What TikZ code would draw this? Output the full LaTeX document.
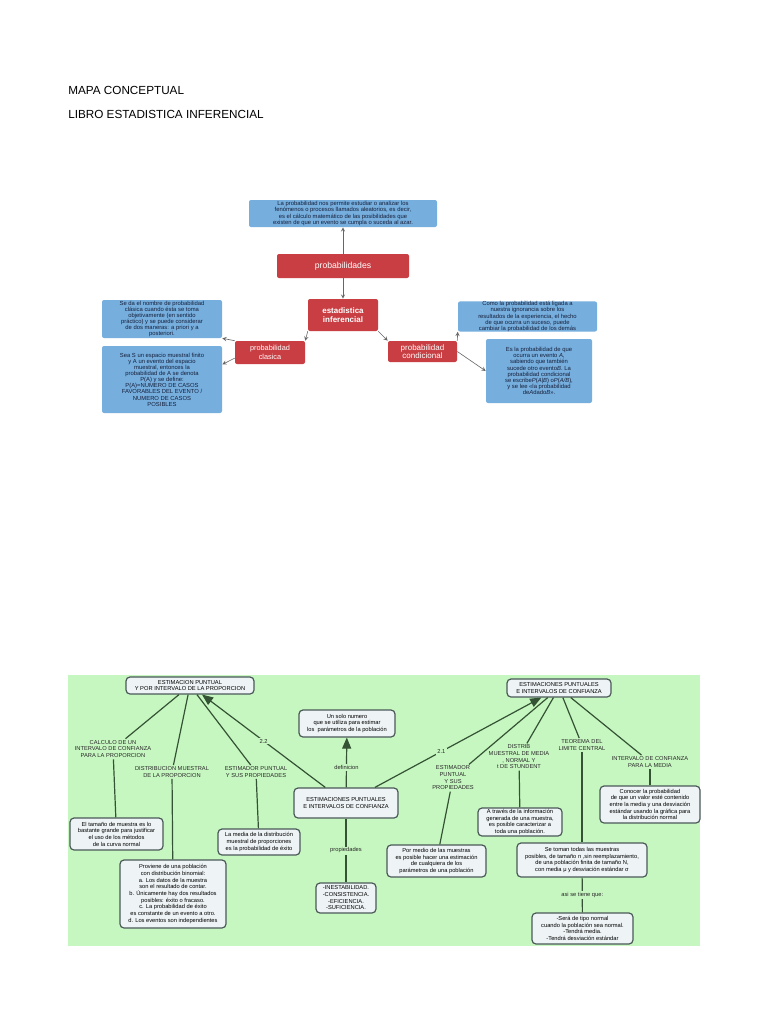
\documentclass[tikz,border=0pt]{standalone}
\usepackage{fontspec}
\setmainfont{Liberation Sans}
\usepackage{xcolor}
\usetikzlibrary{shapes,arrows,positioning}

\definecolor{conceptred}{RGB}{201,62,67}
\definecolor{conceptblue}{RGB}{118,174,222}
\definecolor{bluetext}{RGB}{22,32,58}
\definecolor{mapgreen}{RGB}{199,247,193}
\definecolor{mapnode}{RGB}{238,243,245}
\definecolor{mapedge}{RGB}{74,88,88}
\definecolor{mapline}{RGB}{52,82,52}

\begin{document}
\begin{tikzpicture}[
    x=0.75pt, y=-0.75pt,
    redbox/.style={fill=conceptred, rounded corners=1.5pt, text=white, align=center, inner sep=0pt},
    bluebox/.style={fill=conceptblue, rounded corners=1.5pt, text=bluetext, align=center, inner sep=0pt,
        font=\fontsize{4.4}{4.6}\selectfont},
    arr/.style={->, >=stealth, draw=black!60, line width=0.45pt},
    box/.style={draw=mapedge, line width=0.9pt, fill=mapnode, rounded corners=3pt, align=center, inner sep=0pt,
        font=\fontsize{4.3}{5}\selectfont},
    lbl/.style={align=center, inner sep=1pt, text=black!85, font=\fontsize{4.3}{5}\selectfont},
    link/.style={draw=mapline, line width=0.9pt},
    larr/.style={link, ->, >=triangle 45}
]

% Page
\fill[white] (0,0) rectangle (768,1024);
\useasboundingbox (0,0) rectangle (768,1024);

% Headers
\node[anchor=west, inner sep=0pt, font=\fontsize{8.8}{10}\selectfont] (title) at (68,90) {MAPA CONCEPTUAL};
\node[anchor=west, inner sep=0pt, font=\fontsize{8.8}{10}\selectfont] (book) at (68,114) {LIBRO ESTADISTICA INFERENCIAL};

% First map
\node[bluebox, minimum width=141pt, minimum height=20.25pt] (info) at (343,213.5)
{La probabilidad nos permite estudiar o analizar los\\
fenómenos o procesos llamados aleatorios, es decir,\\
es el cálculo matemático de las posibilidades que\\
existen de que un evento se cumpla o suceda al azar.};

\node[redbox, minimum width=99pt, minimum height=18pt, font=\fontsize{6.5}{7}\selectfont] (prob) at (343,266) {probabilidades};

\node[redbox, minimum width=52.5pt, minimum height=24pt, font=\fontsize{6}{6.8}\selectfont\bfseries] (estad) at (343,315)
{estadistica\\inferencial};

\node[redbox, minimum width=52.5pt, minimum height=17.25pt, font=\fontsize{5.5}{6.2}\selectfont] (clasica) at (270,352.5)
{probabilidad\\clasica};

\node[redbox, minimum width=51.75pt, minimum height=15.75pt, font=\fontsize{6}{6.4}\selectfont] (cond) at (422.5,351.5)
{probabilidad\\condicional};

\node[bluebox, minimum width=90pt, minimum height=28.5pt] (clasdef) at (162,319)
{Se da el nombre de probabilidad\\
clásica cuando ésta se toma\\
objetivamente (en sentido\\
práctico) y se puede considerar\\
de dos maneras: a priori y a\\
posteriori.};

\node[bluebox, minimum width=90pt, minimum height=50.25pt] (clasform) at (162,379.5)
{Sea S un espacio muestral finito\\
y A un evento del espacio\\
muestral, entonces la\\
probabilidad de A se denota\\
P(A) y se define:\\
P(A)=NUMERO DE CASOS\\
FAVORABLES DEL EVENTO /\\
NUMERO DE CASOS\\
POSIBLES};

\node[bluebox, minimum width=104.25pt, minimum height=21.75pt] (conddef) at (527.5,316.5)
{Como la probabilidad está ligada a\\
nuestra ignorancia sobre los\\
resultados de la experiencia, el hecho\\
de que ocurra un suceso, puede\\
cambiar la probabilidad de los demás};

\node[bluebox, minimum width=79.5pt, minimum height=48pt] (condform) at (539,371)
{Es la probabilidad de que\\
ocurra un evento \textit{A},\\
sabiendo que también\\
sucede otro evento\textit{B}. La\\
probabilidad condicional\\
se escribe\textit{P}(\textit{A}|\textit{B}) o\textit{P}(\textit{A/B}),\\
y se lee «la probabilidad\\
de\textit{A}dado\textit{B}».};

\draw[arr] (prob.north) -- (info.south);
\draw[arr] (prob.south) -- (estad.north);
\draw[arr] (estad.south west) -- (clasica.north east);
\draw[arr] (estad.south east) -- (cond.north west);
\draw[arr] (clasica.north west) -- (clasdef.south east);
\draw[arr] (clasica.189) -- (clasform.14);
\draw[arr] (cond.north east) -- (conddef.south west);
\draw[arr] (cond.east) -- (condform.west);

% Second map
\fill[mapgreen] (68,675) rectangle (700,946);

\node[box, minimum width=96pt, minimum height=12.75pt] (prop) at (190,685.5)
{ESTIMACION PUNTUAL\\Y POR INTERVALO DE LA PROPORCION};

\node[box, minimum width=78pt, minimum height=13.5pt] (media) at (559,688)
{ESTIMACIONES PUNTUALES\\E INTERVALOS DE CONFIANZA};

\node[box, minimum width=72pt, minimum height=20.25pt] (numero) at (347,723.5)
{Un solo numero\\que se utiliza para estimar\\los \ parámetros de la población};

\node[box, minimum width=78pt, minimum height=22.5pt] (centro) at (346,803)
{ESTIMACIONES PUNTUALES\\E INTERVALOS DE CONFIANZA};

\node[box, minimum width=69.75pt, minimum height=24pt] (tamano) at (116.5,834)
{El tamaño de muestra es lo\\
bastante grande para justificar\\
el uso de los métodos\\
de la curva normal};

\node[box, minimum width=79.5pt, minimum height=51pt] (binom) at (173,894)
{Proviene de una población\\
con distribución binomial:\\
a. Los datos de la muestra\\
son el resultado de contar.\\
b. Únicamente hay dos resultados\\
posibles: éxito o fracaso.\\
c. La probabilidad de éxito\\
es constante de un evento a otro.\\
d. Los eventos son independientes};

\node[box, minimum width=61.5pt, minimum height=19.5pt] (exito) at (259,842)
{La media de la distribución\\
muestral de proporciones\\
es la probabilidad de éxito};

\node[box, minimum width=45pt, minimum height=22.5pt] (props) at (346,898)
{-INESTABILIDAD.\\-CONSISTENCIA.\\-EFICIENCIA.\\-SUFICIENCIA.};

\node[box, minimum width=74.25pt, minimum height=24pt] (muestras) at (436.5,861)
{Por medio de las muestras\\
es posible hacer una estimación\\
de cualquiera de los\\
parámetros de una población};

\node[box, minimum width=63pt, minimum height=21pt] (poblacion) at (520,822)
{A través de la información\\
generada de una muestra,\\
es posible caracterizar a\\
toda una población.};

\node[box, minimum width=97.5pt, minimum height=25.5pt] (todas) at (582,860)
{Se toman todas las muestras\\
posibles, de tamaño n ,sin reemplazamiento,\\
de una población finita de tamaño N,\\
con media μ y desviación estándar σ};

\node[box, minimum width=75pt, minimum height=27.75pt] (conocer) at (650,804.5)
{Conocer la probabilidad\\
de que un valor esté contenido\\
entre la media y una desviación\\
estándar usando la gráfica para\\
la distribución normal};

\node[box, minimum width=75.75pt, minimum height=23.25pt] (normal) at (582.5,928.5)
{-Será de tipo normal\\
cuando la población sea normal.\\
-Tendrá media.\\
-Tendrá desviación estándar};

% Link words
\node[lbl] (calculo) at (113,749) {CALCULO DE UN\\INTERVALO DE CONFIANZA\\PARA LA PROPORCION};
\node[lbl] (distprop) at (172,772) {DISTRIBUCION MUESTRAL\\DE LA PROPORCION};
\node[lbl] (estprop) at (256,772) {ESTIMADOR PUNTUAL\\Y SUS PROPIEDADES};
\node[lbl] (estmedia) at (453,778) {ESTIMADOR\\PUNTUAL\\Y SUS\\PROPIEDADES};
\node[lbl] (distmedia) at (519,757) {DISTRIB\\MUESTRAL DE MEDIA\\, NORMAL Y\\t DE STUNDENT};
\node[lbl] (teorema) at (582,745) {TEOREMA DEL\\LIMITE CENTRAL};
\node[lbl] (intmedia) at (650,762) {INTERVALO DE CONFIANZA\\PARA LA MEDIA};

% Links
\draw[link] (prop) -- (calculo);
\draw[link] (calculo) -- (tamano);
\draw[link] (prop) -- (distprop);
\draw[link] (distprop) -- (binom);
\draw[link] (prop) -- (estprop);
\draw[link] (estprop) -- (exito);

\draw[larr] (centro) -- (prop) node[lbl, midway, fill=mapgreen] {2.2};
\draw[larr] (centro) -- (numero) node[lbl, pos=0.4, fill=mapgreen] {definicion};
\draw[larr] (centro) -- (media) node[lbl, pos=0.4, fill=mapgreen] {2.1};
\draw[link] (centro) -- (props) node[lbl, midway, fill=mapgreen] {propiedades};

\draw[link] (media) -- (estmedia);
\draw[link] (estmedia) -- (muestras);
\draw[link] (media) -- (distmedia);
\draw[link] (distmedia) -- (poblacion);
\draw[link] (media) -- (teorema);
\draw[link] (teorema) -- (todas);
\draw[link] (media) -- (intmedia);
\draw[link] (intmedia) -- (conocer);
\draw[link] (todas) -- (normal) node[lbl, midway, fill=mapgreen] {asi se tiene que:};

\end{tikzpicture}
\end{document}
